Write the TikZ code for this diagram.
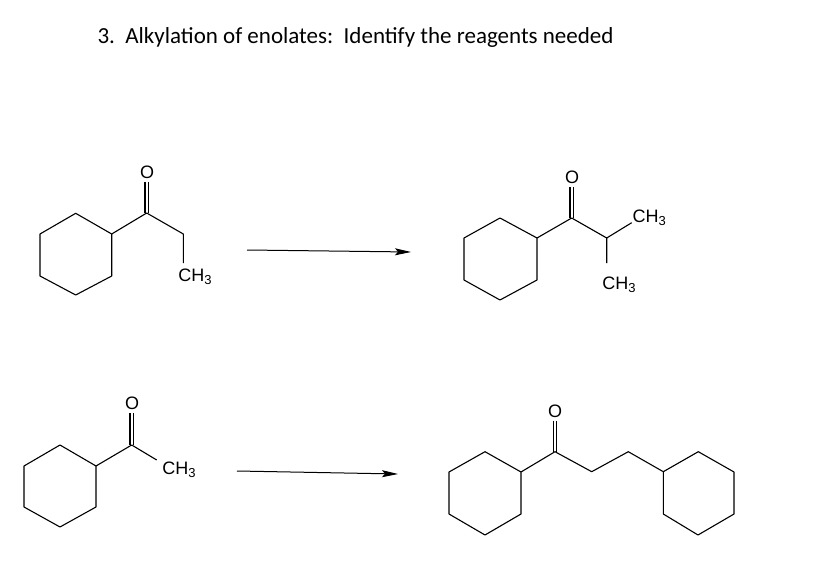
\documentclass[tikz,border=0pt]{standalone}
\usepackage{fontspec}
\setmainfont{Liberation Sans}
\newfontfamily\titlefont{Carlito}
\usetikzlibrary{arrows.meta}
\newcommand{\methyl}{CH\raisebox{-0.35ex}{\fontsize{13}{13}\selectfont 3}}
\begin{document}
\begin{tikzpicture}[x=1pt,y=-1pt,line width=1.1pt,line join=round,
  lbl/.style={inner sep=0pt,font=\fontsize{18}{18}\selectfont},
  rxn/.style={line width=1pt,-{Stealth[length=16pt,width=7pt,inset=3pt]}}]
\useasboundingbox (0,0) rectangle (837,564);
\node[anchor=west,inner sep=0pt,font=\titlefont\fontsize{23}{23}\selectfont] (title) at (97,37) {3.\ \ Alkylation of enolates:\ \ Identify the reagents needed};
% molecule 1
\draw (75.7,213.3)--(111.7,234)--(111.7,276)--(75.7,295)--(40,276)--(40,234)--cycle;
\draw (111.7,234)--(146.7,213)--(183.3,234)--(183.3,263);
\draw (145,213)--(145,182) (148.4,213)--(148.4,182);
\node[lbl] (o1) at (147,172) {O};
\node[lbl] (m1) at (195,277) {\methyl};
% molecule 2
\draw (500,218)--(537,238)--(537,280)--(500,300)--(464,280)--(464,238)--cycle;
\draw (537,238)--(571.7,218)--(606.7,238)--(631.7,222.7) (606.7,238)--(606.7,263);
\draw (570,218)--(570,187) (573.4,218)--(573.4,187);
\node[lbl] (o2) at (572,177) {O};
\node[lbl,anchor=west] (m2) at (632,218) {\methyl};
\node[lbl] (m3) at (619,285) {\methyl};
% molecule 3
\draw (60,445)--(96,466)--(96,507)--(60,527)--(24,507)--(24,466)--cycle;
\draw (96,466)--(131.7,445)--(156.7,460);
\draw (130,445)--(130,413) (133.4,445)--(133.4,413);
\node[lbl] (o3) at (132,403) {O};
\node[lbl] (m4) at (179,470) {\methyl};
% molecule 4
\draw (485,451.7)--(521,472)--(521,514)--(485,535)--(449,514)--(449,472)--cycle;
\draw (521,472)--(555,451.7)--(591.7,471.7)--(628.3,451.7)--(663.3,471.7);
\draw (698.3,451.7)--(734,472)--(734,514)--(698,535)--(663.3,514)--(663.3,471.7)--cycle;
\draw (553.3,451.7)--(553.3,421) (556.7,451.7)--(556.7,421);
\node[lbl] (o4) at (555,411.7) {O};
% arrows
\coordinate (a1) at (247,250); \coordinate (b1) at (411,252);
\coordinate (a2) at (237,471); \coordinate (b2) at (398,474);
\draw[rxn] (a1)--(b1);
\draw[rxn] (a2)--(b2);
\end{tikzpicture}
\end{document}
